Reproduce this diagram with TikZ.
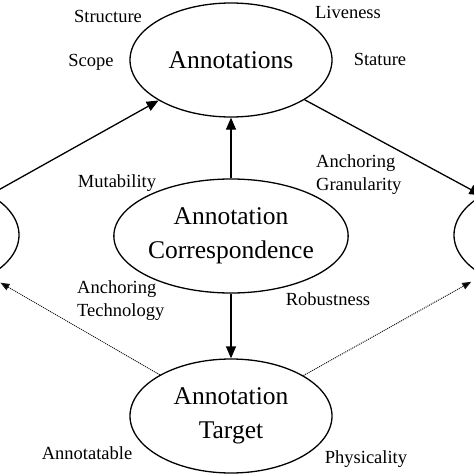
\documentclass[tikz,border=0pt]{standalone}
\usepackage{fontspec}
\setmainfont{Liberation Serif}
\usetikzlibrary{shapes.geometric,arrows.meta}
\tikzset{
  oval/.style={draw, ellipse, line width=1.3pt, minimum width=202pt, minimum height=114pt, inner sep=0pt, align=center, font=\fontsize{25.5}{34}\selectfont},
  lbl/.style={inner sep=0pt, align=left, font=\fontsize{18.5}{23}\selectfont},
  solidarrow/.style={line width=1.3pt, -{Triangle[length=12pt,width=10pt]}},
  dotarrow/.style={line width=1pt, densely dotted, draw=black!90, shorten >=13pt, -{Triangle[length=9pt,width=7pt,fill=black]}}
}
\begin{document}
\begin{tikzpicture}[x=1pt,y=-1pt]
\useasboundingbox (0,0) rectangle (474,474);
\clip (0,0) rectangle (474,474);
\node[oval] (ann) at (231,60) {Annotations};
\node[oval] (corr) at (231,236) {Annotation\\Correspondence};
\node[oval] (tgt) at (231,416) {Annotation\\Target};
\node[oval] (left) at (-82,235) {};
\node[oval] (right) at (555,235) {};
\draw[solidarrow] (left) -- (ann);
\draw[solidarrow] (ann) -- (right);
\draw[solidarrow] (corr) -- (ann);
\draw[solidarrow] (corr) -- (tgt);
\draw[dotarrow] (tgt) -- (left);
\draw[dotarrow] (tgt) -- (right);
\node[lbl] (l1) at (108,16) {Structure};
\node[lbl] (l2) at (348,12) {Liveness};
\node[lbl] (l3) at (91,62) {Scope};
\node[lbl] (l4) at (380,59) {Stature};
\node[lbl] (l5) at (117,183) {Mutability};
\node[lbl, anchor=west] (l6) at (77,301) {Anchoring\\Technology};
\node[lbl, anchor=west] (l7) at (316,175) {Anchoring\\Granularity};
\node[lbl] (l8) at (328,299) {Robustness};
\node[lbl] (l9) at (87,453) {Annotatable};
\node[lbl] (l10) at (366,459) {Physicality};
\end{tikzpicture}
\end{document}
